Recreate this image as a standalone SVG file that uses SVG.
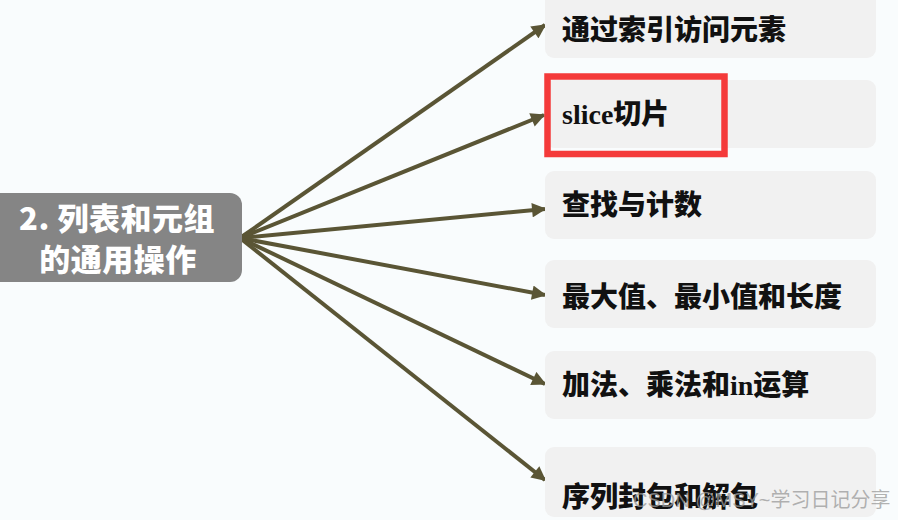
<svg xmlns="http://www.w3.org/2000/svg" width="898" height="520" viewBox="0 0 898 520">
<defs>
<style>
.box{fill:#f1f1f1}
.lbl{font-family:"Liberation Serif","Noto Sans CJK SC",serif;font-weight:900;font-size:28px;fill:#111}
.root{font-family:"Noto Sans CJK SC","Liberation Sans",sans-serif;font-weight:900;font-size:31px;fill:#fff}
.conn line{stroke:#5a5535;stroke-width:4;marker-end:url(#ah)}
</style>
<marker id="ah" viewBox="0 0 10 10" refX="9" refY="5" markerWidth="4" markerHeight="3.6" orient="auto" markerUnits="strokeWidth">
<path d="M0,0 L10,5 L0,10 z" fill="#5a5535"/>
</marker>
</defs>
<rect width="898" height="520" fill="#f9fcfd"/>
<g class="conn">
<line x1="240" y1="238" x2="545" y2="25"/>
<line x1="240" y1="238" x2="544" y2="115"/>
<line x1="240" y1="238" x2="545" y2="209"/>
<line x1="240" y1="238" x2="545" y2="295"/>
<line x1="240" y1="238" x2="545" y2="384"/>
<line x1="240" y1="238" x2="545" y2="480"/>
</g>
<g id="root">
<rect x="-12" y="193" width="254" height="89" rx="12" fill="#858585"/>
<text class="root" x="117" y="230" text-anchor="middle" letter-spacing="0.5">2. 列表和元组</text>
<text class="root" x="118" y="271" text-anchor="middle" letter-spacing="0.5">的通用操作</text>
</g>
<g id="n1">
<rect class="box" x="545" y="-10" width="331" height="68" rx="9"/>
<text class="lbl" x="562" y="40">通过索引访问元素</text>
</g>
<g id="n2">
<rect class="box" x="545" y="80" width="331" height="68" rx="9"/>
<text class="lbl" x="562" y="124">slice切片</text>
<rect x="547.5" y="76.5" width="177" height="77.5" fill="none" stroke="#f43a3a" stroke-width="6.5"/>
</g>
<g id="n3">
<rect class="box" x="545" y="171" width="331" height="68" rx="9"/>
<text class="lbl" x="562" y="215">查找与计数</text>
</g>
<g id="n4">
<rect class="box" x="545" y="260" width="331" height="68" rx="9"/>
<text class="lbl" x="562" y="307">最大值、最小值和长度</text>
</g>
<g id="n5">
<rect class="box" x="545" y="351" width="331" height="68" rx="9"/>
<text class="lbl" x="562" y="395">加法、乘法和in运算</text>
</g>
<g id="n6">
<rect class="box" x="545" y="447" width="331" height="70" rx="9"/>
<text class="lbl" x="562" y="507">序列封包和解包</text>
</g>
<text x="633" y="507" font-family="'Liberation Sans','Noto Sans CJK SC',sans-serif" font-size="20" fill="#9a9a9a" fill-opacity="0.75">CSDN @MSY~学习日记分享</text>
</svg>
